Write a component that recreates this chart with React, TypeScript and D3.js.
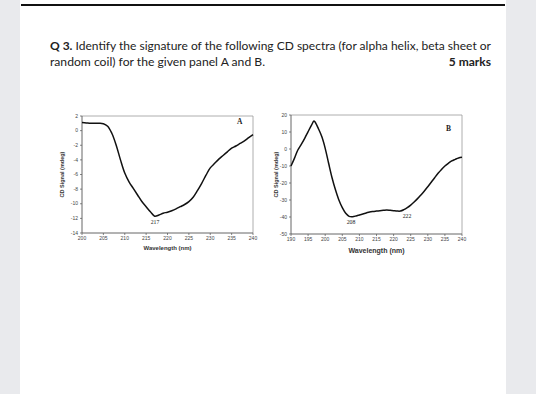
import * as d3 from "d3";

// panel A: single minimum near 217 nm
const waveA = [200, 201, 202, 203, 204, 205, 206, 207, 208, 209, 210, 211, 212, 213, 214, 215, 216, 217, 218, 219, 220, 221, 222, 223, 224, 225, 226, 227, 228, 229, 230, 231, 232, 233, 234, 235, 236, 237, 238, 239, 240];
const signalA = [1.1, 1.05, 1.0, 1.0, 1.0, 0.95, 0.6, -0.4, -2.0, -4.0, -5.8, -7.0, -7.9, -8.8, -9.7, -10.4, -11.1, -11.7, -11.55, -11.3, -11.15, -10.95, -10.7, -10.4, -10.1, -9.7, -9.1, -8.2, -7.2, -6.1, -5.1, -4.5, -3.9, -3.4, -2.9, -2.4, -2.1, -1.75, -1.4, -0.95, -0.55];

// panel B: positive band ~197 nm, minima 208 / 222 nm
const waveB = [190, 191, 192, 193, 194, 195, 196, 196.7, 197, 198, 199, 200, 201, 202, 203, 204, 205, 206, 207, 208, 209, 210, 211, 212, 213, 214, 215, 216, 217, 218, 219, 220, 221, 222, 223, 224, 225, 226, 227, 228, 229, 230, 231, 232, 233, 234, 235, 236, 237, 238, 239, 240];
const signalB = [-10, -5.5, -0.6, 2.7, 6.3, 10.2, 14, 16.5, 16, 12, 7.3, 0.4, -8.4, -16.9, -24, -30, -34.5, -37.8, -39.6, -39.8, -39.4, -38.8, -38.2, -37.6, -37, -36.7, -36.5, -36.3, -36.1, -35.9, -36.1, -36.3, -36.5, -36.5, -35.7, -34.5, -33, -31.2, -29.2, -27, -24.7, -22.2, -19.6, -16.9, -14.3, -12, -10, -8.4, -7, -6.1, -5.3, -4.9];

const ticksA_x = [200, 205, 210, 215, 220, 225, 230, 235, 240];
const ticksA_y = [2, 0, -2, -4, -6, -8, -10, -12, -14];
const ticksB_x = [190, 195, 200, 205, 210, 215, 220, 225, 230, 235, 240];
const ticksB_y = [20, 10, 0, -10, -20, -30, -40, -50];

const tickFont = "'Liberation Sans', Arial, sans-serif";

type PanelProps = {
    x0: number;
    x1: number;
    y0: number;
    y1: number;
    xs: number[];
    ys: number[];
    xDomain: [number, number];
    yDomain: [number, number];
    xTicks: number[];
    yTicks: number[];
    letter: string;
    letterPos: [number, number];
    notes: { text: string; x: number; y: number }[];
    xLabelY: number;
    xLabelSize: number;
    yLabelX: number;
};

function Panel(p: PanelProps) {
    const x = d3.scaleLinear().domain(p.xDomain).range([p.x0, p.x1]);
    const y = d3.scaleLinear().domain(p.yDomain).range([p.y1, p.y0]);
    const line = d3
        .line<number>()
        .x((_, i) => x(p.xs[i]))
        .y((d) => y(d))
        .curve(d3.curveCatmullRom.alpha(0.5));
    return (
        <g>
            {/* frame: light top/right, darker axes */}
            <line x1={p.x0} x2={p.x1} y1={p.y0} y2={p.y0} stroke="#9a9a9a" strokeWidth={0.8} />
            <line x1={p.x1} x2={p.x1} y1={p.y0} y2={p.y1} stroke="#9a9a9a" strokeWidth={0.8} />
            <line x1={p.x0} x2={p.x1} y1={p.y1} y2={p.y1} stroke="#555" strokeWidth={0.9} />
            <line x1={p.x0} x2={p.x0} y1={p.y0} y2={p.y1} stroke="#555" strokeWidth={0.9} />
            {p.yTicks.map((t) => (
                <g key={t}>
                    <line x1={p.x0 - 2} x2={p.x0} y1={y(t)} y2={y(t)} stroke="#555" strokeWidth={0.7} />
                    <text x={p.x0 - 4} y={y(t) + 1.7} fontSize={5} fill="#444" textAnchor="end" fontFamily={tickFont}>
                        {t}
                    </text>
                </g>
            ))}
            {p.xTicks.map((t) => (
                <g key={t}>
                    <line x1={x(t)} x2={x(t)} y1={p.y1} y2={p.y1 + 2} stroke="#555" strokeWidth={0.7} />
                    <text x={x(t)} y={p.y1 + 7} fontSize={5} fill="#444" textAnchor="middle" fontFamily={tickFont}>
                        {t}
                    </text>
                </g>
            ))}
            <path d={line(p.ys) ?? ""} fill="none" stroke="#111" strokeWidth={1.5} />
            <text x={p.letterPos[0]} y={p.letterPos[1]} fontSize={7.5} fontWeight="bold" fontFamily="'Liberation Serif', serif" fill="#222">
                {p.letter}
            </text>
            {p.notes.map((n) => (
                <text key={n.text} x={n.x} y={n.y} fontSize={5.8} fill="#222" textAnchor="middle" fontFamily="'Liberation Serif', serif">
                    {n.text}
                </text>
            ))}
            <text x={(p.x0 + p.x1) / 2} y={p.xLabelY} fontSize={p.xLabelSize} fontWeight="bold" fill="#333" textAnchor="middle" fontFamily={tickFont}>
                Wavelength (nm)
            </text>
            <text
                transform={`translate(${p.yLabelX},${(p.y0 + p.y1) / 2}) rotate(-90)`}
                fontSize={5.5}
                fontWeight="bold"
                fill="#333"
                textAnchor="middle"
                fontFamily={tickFont}
            >
                CD Signal (mdeg)
            </text>
        </g>
    );
}

export default function App() {
    const W = 536;
    const H = 394;
    const textFont = "Lato, 'Open Sans', sans-serif";
    return (
        <div style={{ position: "fixed", left: 0, top: 0, width: W, height: H }}>
            <svg width={W} height={H} viewBox={`0 0 ${W} ${H}`}>
                <rect width={W} height={H} fill="#e9eaed" />
                <rect x={20} y={0} width={486} height={H} fill="#ffffff" />
                <line x1={21} x2={505} y1={5} y2={5} stroke="#111" strokeWidth={2} />

                <text x={50} y={50} fontSize={12} fill="#222" fontFamily={textFont} textLength={441} lengthAdjust="spacingAndGlyphs">
                    <tspan fontWeight="bold">Q 3.</tspan> Identify the signature of the following CD spectra (for alpha helix, beta sheet or
                </text>
                <text x={50} y={66} fontSize={12} fill="#222" fontFamily={textFont} textLength={215} lengthAdjust="spacingAndGlyphs">
                    random coil) for the given panel A and B.
                </text>
                <text x={491} y={66} fontSize={12} fontWeight="bold" fill="#222" textAnchor="end" fontFamily={textFont}>
                    5 marks
                </text>

                <Panel
                    x0={82}
                    x1={253}
                    y0={116}
                    y1={233}
                    xs={waveA}
                    ys={signalA}
                    xDomain={[200, 240]}
                    yDomain={[-14, 2]}
                    xTicks={ticksA_x}
                    yTicks={ticksA_y}
                    letter="A"
                    letterPos={[237, 124]}
                    notes={[{ text: "217", x: 155, y: 224 }]}
                    xLabelY={250}
                    xLabelSize={6}
                    yLabelX={64}
                />
                <Panel
                    x0={291}
                    x1={462}
                    y0={115}
                    y1={234}
                    xs={waveB}
                    ys={signalB}
                    xDomain={[190, 240]}
                    yDomain={[-50, 20]}
                    xTicks={ticksB_x}
                    yTicks={ticksB_y}
                    letter="B"
                    letterPos={[446, 131]}
                    notes={[
                        { text: "208", x: 351, y: 224 },
                        { text: "222", x: 407, y: 218 },
                    ]}
                    xLabelY={253}
                    xLabelSize={7}
                    yLabelX={278}
                />
            </svg>
        </div>
    );
}
